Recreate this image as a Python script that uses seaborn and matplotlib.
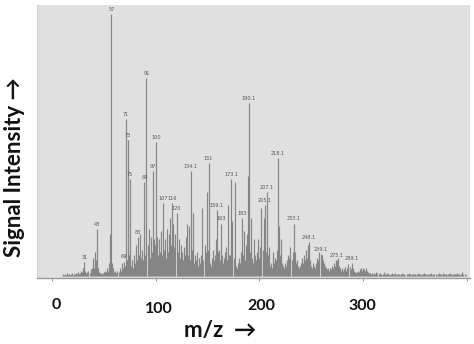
import numpy as np
import pandas as pd
import matplotlib
matplotlib.use("Agg")
import matplotlib.pyplot as plt
import seaborn as sns

# ---- data -------------------------------------------------------------
mz_start = 10
intensity = [
    0.6, 0.4, 0.8, 0.5, 1.0, 0.6, 0.9, 0.4, 0.7, 1.0,
    0.5, 0.9, 0.6, 1.2, 0.8, 1.4, 0.7, 1.1, 1.8, 1.4,
    3.0, 5.3, 2.0, 1.0, 1.5, 2.0, 1.0, 2.5, 3.0, 7.0,
    3.0, 9.0, 6.0, 18.0, 3.0, 1.5, 1.0, 1.2, 0.8, 1.0,
    1.5, 2.0, 1.5, 3.0, 2.0, 5.0, 16.0, 100.0, 5.0, 3.0,
    1.5, 2.0, 1.0, 2.0, 1.5, 3.0, 2.0, 5.0, 3.0, 5.5,
    4.0, 60.0, 6.0, 52.0, 8.0, 37.0, 4.0, 6.0, 3.0, 8.0,
    5.0, 12.0, 6.0, 15.0, 8.0, 16.0, 7.0, 10.0, 6.0, 36.0,
    8.0, 75.6, 12.0, 18.0, 7.0, 15.0, 9.0, 40.0, 14.0, 12.0,
    51.0, 15.0, 8.0, 14.0, 9.0, 17.0, 8.0, 28.0, 10.0, 14.0,
    7.0, 18.0, 9.0, 16.0, 22.0, 12.0, 28.0, 20.0, 11.0, 16.0,
    24.0, 9.0, 14.0, 7.0, 12.0, 9.0, 6.0, 11.0, 8.0, 15.0,
    20.0, 8.0, 19.0, 6.0, 40.0, 10.0, 24.0, 5.0, 8.0, 6.0,
    9.0, 4.0, 7.0, 5.0, 8.0, 26.0, 6.0, 12.0, 9.0, 32.0,
    10.0, 43.0, 5.0, 4.0, 7.0, 10.0, 6.0, 8.0, 14.0, 25.0,
    9.0, 10.0, 6.0, 20.0, 8.0, 5.0, 7.0, 9.0, 11.0, 6.0,
    27.0, 8.0, 8.0, 37.0, 21.0, 7.0, 36.0, 4.0, 3.0, 5.0,
    7.0, 5.0, 9.0, 22.0, 8.0, 17.0, 6.0, 12.0, 16.0, 38.0,
    66.0, 9.0, 22.0, 7.0, 5.0, 14.0, 8.0, 6.0, 9.0, 14.0,
    7.0, 11.0, 26.0, 10.0, 22.0, 27.0, 9.0, 32.0, 8.0, 11.0,
    4.0, 5.0, 3.0, 9.0, 5.0, 7.0, 6.0, 10.0, 45.0, 19.0,
    8.0, 14.0, 5.0, 4.0, 3.0, 5.0, 4.0, 6.0, 8.0, 7.0,
    11.0, 6.0, 9.0, 20.0, 9.0, 5.0, 6.0, 4.0, 3.0, 4.0,
    5.0, 7.0, 5.0, 8.0, 6.0, 10.0, 7.0, 12.0, 13.0, 6.0,
    4.0, 3.0, 5.0, 4.0, 3.0, 5.0, 7.0, 6.0, 9.0, 8.4,
    8.0, 6.0, 5.0, 4.0, 3.0, 2.5, 3.0, 2.0, 3.0, 2.5,
    4.0, 3.0, 5.0, 4.0, 6.0, 6.0, 7.0, 4.0, 3.0, 2.0,
    3.0, 2.0, 2.5, 3.5, 2.0, 3.0, 4.5, 3.5, 2.5, 5.0,
    3.0, 2.0, 1.5, 1.0, 1.5, 2.0, 1.5, 2.5, 3.0, 2.0,
    3.0, 2.5, 2.0, 3.0, 2.0, 1.5, 1.0, 1.2, 0.8, 1.0,
    0.6, 1.2, 0.8, 1.5, 1.0, 0.6, 1.3, 0.7, 0.5, 0.9,
    1.4, 0.8, 0.6, 1.1, 0.7, 0.9, 0.5, 0.8, 1.0, 0.6,
    0.7, 1.0, 0.5, 0.8, 0.6, 0.9, 0.5, 0.7, 1.1, 0.6,
    0.8, 0.5, 0.9, 0.6, 1.0, 0.7, 0.5, 0.8, 0.6, 0.9,
    0.7, 0.5, 0.8, 1.0, 0.6, 0.9, 0.5, 0.7, 0.8, 1.2,
    0.6, 0.8, 0.5, 0.9, 0.7, 0.6, 1.0, 0.5, 0.8, 0.6,
    0.9, 0.5, 0.7, 1.0, 0.6, 0.8, 0.5, 1.3, 0.7, 0.6,
    0.8, 0.5, 0.9, 0.6, 1.0, 0.7, 0.5, 0.8, 0.6, 0.9,
    0.7, 1.0, 0.6, 0.8, 0.5, 0.9, 1.4, 0.6, 0.8, 0.5,
]
mz = list(range(mz_start, mz_start + len(intensity)))

label_mz = [31, 43, 57, 69, 71, 73, 75, 83, 89, 91, 97, 100, 107, 116, 120,
            134, 151, 159, 163, 173, 183, 190, 205, 207, 218, 233, 248, 259,
            275, 289]
label_text = ["31", "43", "57", "69", "71", "73", "75", "83", "89", "91", "97",
              "100", "107", "116", "120", "134.1", "151", "159.1", "163",
              "173.1", "183", "190.1", "205.1", "207.1", "218.1", "233.1",
              "248.1", "259.1", "275.1", "289.1"]

tick_values = [0, 100, 200, 300]
tick_labels = ["0", "100", "200", "300"]

# ---- figure -----------------------------------------------------------
sns.set_style("white")
plt.rcParams["font.family"] = ["Lato", "DejaVu Sans"]

W, H = 474, 344
fig = plt.figure(figsize=(W / 100, H / 100), dpi=100)
ax = fig.add_axes([37 / W, 1 - 278 / H, (470 - 37) / W, (278 - 5) / H])
ax.set_facecolor("#e0e0e0")

df = pd.DataFrame({"mz": mz, "intensity": intensity})
ax.vlines(df["mz"], 0, df["intensity"], color="#858585", linewidth=0.85)

ax.set_xlim(-14.7, 403.3)
ax.set_ylim(-0.76, 103.4)

lookup = dict(zip(mz, intensity))
for m, t in zip(label_mz, label_text):
    ax.text(m, lookup[m] + 0.8, t, ha="center", va="bottom",
            fontsize=3.6, color="#555555", family=["DejaVu Sans"])

for side in ["top", "right"]:
    ax.spines[side].set_visible(False)
ax.spines["left"].set_color("#d0d0d0")
ax.spines["bottom"].set_color("#9a9a9a")
ax.spines["bottom"].set_linewidth(1.0)
ax.set_yticks([])
ax.set_xticks([0, 100, 200, 300, 400])
ax.set_xticklabels([])
ax.tick_params(axis="x", direction="out", length=2.5, width=0.8,
               color="#9a9a9a", bottom=True)

# custom tick labels, placed as in the reference
tick_y = [305, 309, 306.5, 306]
tick_x = [56, 159, 261, 362]
for tx, ty, tl in zip(tick_x, tick_y, tick_labels):
    fig.text(tx / W, 1 - ty / H, tl, ha="center", va="center",
             fontsize=11.5, fontweight="bold", color="#111111")

fig.text(220 / W, 1 - 331 / H, "m/z  \u2192", ha="center", va="center",
         fontsize=16, fontweight="bold", color="#111111")
fig.text(15 / W, 1 - 167 / H, "Signal Intensity \u2192", ha="center",
         va="center", rotation=90, fontsize=16, fontweight="bold",
         color="#111111")

fig.savefig("out.png", dpi=100, facecolor="white")
